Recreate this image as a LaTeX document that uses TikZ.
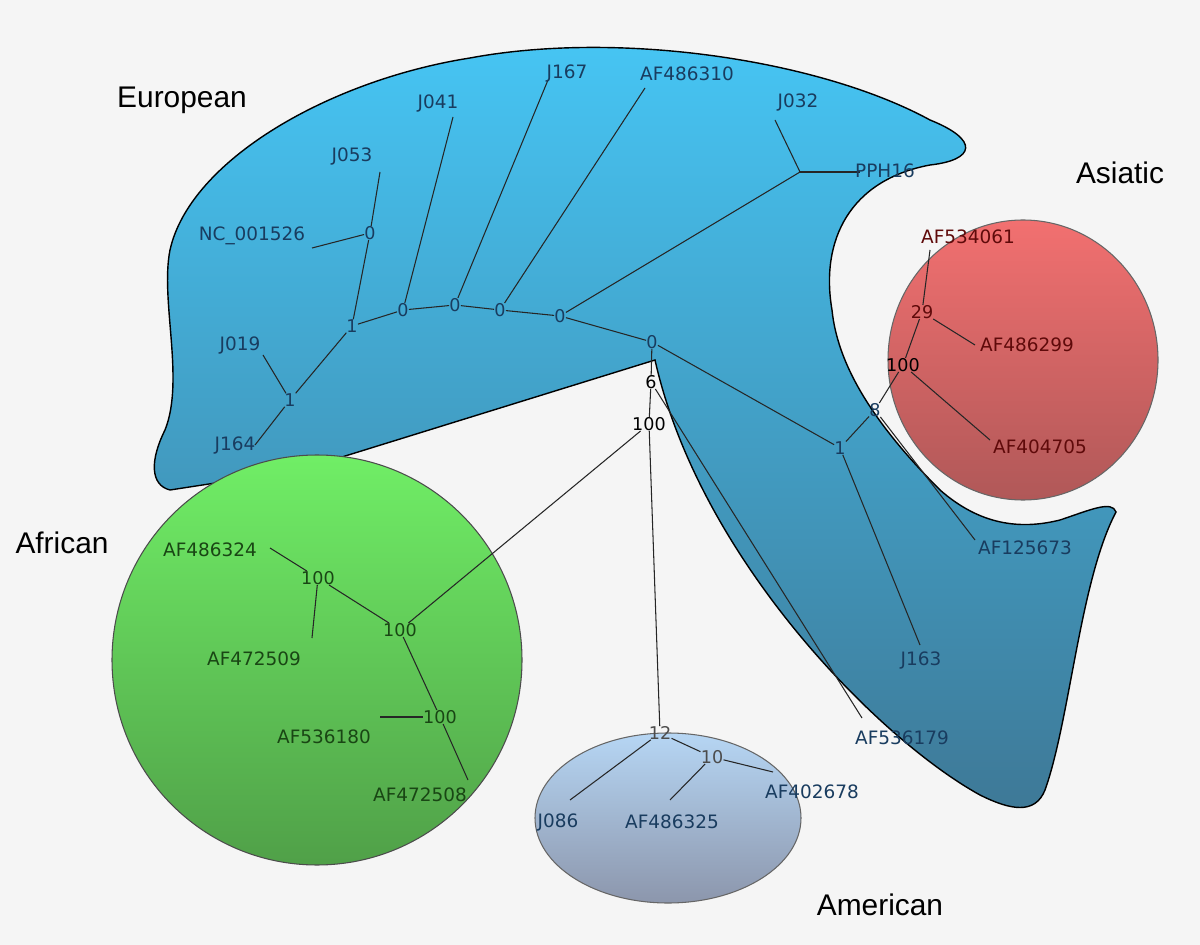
\documentclass[tikz,border=0pt]{standalone}
\usepackage{fontspec}
\setmainfont{DejaVu Sans}
\newfontfamily\titlefont{Liberation Sans}
\begin{document}
\begin{tikzpicture}[x=0.02cm,y=-0.02cm,
  br/.style={draw=black!85,line width=0.6pt},
  nd/.style={inner sep=0pt,font=\fontsize{10}{10}\selectfont},
  lb/.style={inner sep=1pt,font=\fontsize{10.5}{11}\selectfont},
  ttl/.style={font=\titlefont\fontsize{17}{18}\selectfont}]
\definecolor{bg}{RGB}{245,245,245}
\definecolor{eublue}{RGB}{25,60,95}
\definecolor{afgreen}{RGB}{25,70,20}
\definecolor{asred}{RGB}{95,10,10}
\fill[bg] (0,0) rectangle (1200,945);
\useasboundingbox (0,0) rectangle (1200,945);
% European region
\shade[top color={rgb,255:red,70;green,198;blue,245},bottom color={rgb,255:red,62;green,120;blue,150},draw=black,line width=0.8pt]
 (170,490) .. controls (150,485) and (150,460) .. (165,430)
 .. controls (185,380) and (160,300) .. (170,250)
 .. controls (190,160) and (330,80) .. (470,58)
 .. controls (620,30) and (820,60) .. (930,120)
 .. controls (980,140) and (975,160) .. (930,165)
 .. controls (850,180) and (820,240) .. (832,310)
 .. controls (838,370) and (880,430) .. (940,490)
 .. controls (980,525) and (1020,530) .. (1060,520)
 .. controls (1090,510) and (1112,500) .. (1116,512)
 .. controls (1080,580) and (1070,720) .. (1045,790)
 .. controls (1035,815) and (1010,810) .. (980,795)
 .. controls (880,740) and (700,560) .. (655,360)
 -- (300,470) -- cycle;
% African
\shade[top color={rgb,255:red,112;green,238;blue,102},bottom color={rgb,255:red,80;green,160;blue,72},draw=black!70,line width=0.6pt] (317,660) circle [radius=205];
% Asiatic
\shade[top color={rgb,255:red,242;green,112;blue,112},bottom color={rgb,255:red,176;green,88;blue,88},draw=black!60,line width=0.6pt] (1023,360) ellipse [x radius=135,y radius=140];
% American
\shade[top color={rgb,255:red,182;green,214;blue,244},bottom color={rgb,255:red,140;green,150;blue,172},draw=black!60,line width=0.6pt] (668,818) ellipse [x radius=133,y radius=85];
% titles
\node[ttl] (tEu) at (182,100) {European};
\node[ttl] (tAs) at (1120,173) {Asiatic};
\node[ttl] (tAf) at (62,543) {African};
\node[ttl] (tAm) at (880,905) {American};
% internal nodes
\node[nd,text=eublue] (r) at (652,342) {0};
\node[nd] (s6) at (651,382) {6};
\node[nd] (c100) at (649,424) {100};
\node[nd,text=eublue] (e1) at (560,316) {0};
\node[nd,text=eublue] (e2) at (500,310) {0};
\node[nd,text=eublue] (e3) at (455,305) {0};
\node[nd,text=eublue] (e4) at (403,310) {0};
\node[nd,text=eublue] (e5) at (352,326) {1};
\node[nd,text=eublue] (e6) at (290,400) {1};
\node[nd,text=eublue] (e7) at (370,233) {0};
\coordinate (e8) at (800,172);
\node[nd,text=eublue] (a1) at (840,448) {1};
\node[nd,text=eublue] (a2) at (875,410) {8};
\node[nd] (a3) at (903,365) {100};
\node[nd,text=asred] (a4) at (922,312) {29};
\node[nd,text=afgreen] (f1) at (400,630) {100};
\node[nd,text=afgreen] (f2) at (318,578) {100};
\node[nd,text=afgreen] (f3) at (440,717) {100};
\node[nd,text=black!70] (m1) at (660,733) {12};
\node[nd,text=black!70] (m2) at (712,757) {10};
% leaf ends
\coordinate (lJ164) at (255,445);
\coordinate (lJ019) at (263,355);
\coordinate (lJ053) at (380,172);
\coordinate (lNC) at (312,248);
\coordinate (lJ041) at (453,117);
\coordinate (lJ167) at (548,80);
\coordinate (lAF486310) at (645,88);
\coordinate (lJ032) at (775,120);
\coordinate (lPPH16) at (860,172);
\coordinate (lAF534061) at (930,250);
\coordinate (lAF486299) at (975,345);
\coordinate (lAF404705) at (990,440);
\coordinate (lAF125673) at (975,540);
\coordinate (lJ163) at (920,645);
\coordinate (lAF536179) at (862,718);
\coordinate (lAF486324) at (270,548);
\coordinate (lAF472509) at (312,638);
\coordinate (lAF536180) at (380,717);
\coordinate (lAF472508) at (468,780);
\coordinate (lJ086) at (570,800);
\coordinate (lAF486325) at (670,800);
\coordinate (lAF402678) at (773,772);
% branches
\draw[br] (r) -- (s6) -- (c100);
\draw[br] (s6) -- (lAF536179);
\draw[br] (r) -- (e1) -- (e2) -- (e3) -- (e4) -- (e5) -- (e6) -- (lJ164);
\draw[br] (e6) -- (lJ019);
\draw[br] (e5) -- (e7) -- (lJ053);
\draw[br] (e7) -- (lNC);
\draw[br] (e4) -- (lJ041);
\draw[br] (e3) -- (lJ167);
\draw[br] (e2) -- (lAF486310);
\draw[br] (e1) -- (e8) -- (lJ032);
\draw[br] (e8) -- (lPPH16);
\draw[br] (r) -- (a1) -- (a2) -- (a3) -- (a4) -- (lAF534061);
\draw[br] (a4) -- (lAF486299);
\draw[br] (a3) -- (lAF404705);
\draw[br] (a2) -- (lAF125673);
\draw[br] (a1) -- (lJ163);
\draw[br] (c100) -- (f1) -- (f2) -- (lAF486324);
\draw[br] (f2) -- (lAF472509);
\draw[br] (f1) -- (f3) -- (lAF472508);
\draw[br] (f3) -- (lAF536180);
\draw[br] (c100) -- (m1) -- (lJ086);
\draw[br] (m1) -- (m2) -- (lAF486325);
\draw[br] (m2) -- (lAF402678);
% leaf labels
\node[lb,text=eublue] (tJ053) at (352,157) {J053};
\node[lb,text=eublue] (tNC) at (252,236) {NC\_001526};
\node[lb,text=eublue] (tJ041) at (438,104) {J041};
\node[lb,text=eublue] (tJ167) at (567,74) {J167};
\node[lb,text=eublue] (tAF486310) at (687,74) {AF486310};
\node[lb,text=eublue] (tJ032) at (798,103) {J032};
\node[lb,text=eublue] (tPPH16) at (885,171) {PPH16};
\node[lb,text=eublue] (tJ019) at (240,346) {J019};
\node[lb,text=eublue] (tJ164) at (235,446) {J164};
\node[lb,text=asred] (tAF534061) at (968,237) {AF534061};
\node[lb,text=asred] (tAF486299) at (1027,345) {AF486299};
\node[lb,text=asred] (tAF404705) at (1040,447) {AF404705};
\node[lb,text=eublue] (tAF125673) at (1025,548) {AF125673};
\node[lb,text=eublue] (tJ163) at (921,660) {J163};
\node[lb,text=eublue] (tAF536179) at (902,738) {AF536179};
\node[lb,text=afgreen] (tAF486324) at (210,550) {AF486324};
\node[lb,text=afgreen] (tAF472509) at (254,659) {AF472509};
\node[lb,text=afgreen] (tAF536180) at (324,737) {AF536180};
\node[lb,text=afgreen] (tAF472508) at (420,795) {AF472508};
\node[lb,text=eublue] (tJ086) at (558,822) {J086};
\node[lb,text=eublue] (tAF486325) at (672,822) {AF486325};
\node[lb,text=eublue] (tAF402678) at (812,792) {AF402678};
\end{tikzpicture}
\end{document}
